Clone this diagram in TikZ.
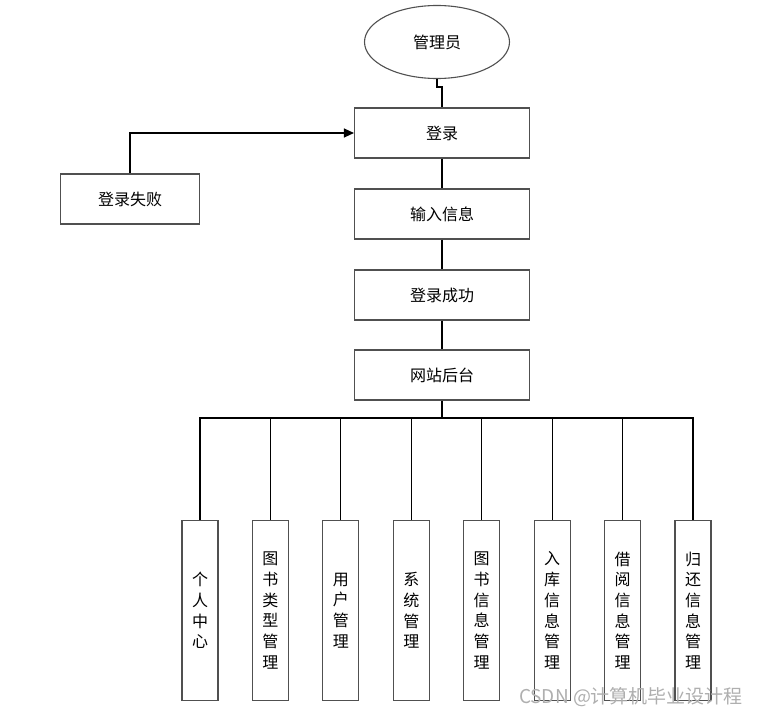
\documentclass[tikz,border=0pt]{standalone}
\usepackage{fontspec}
\setmainfont{Noto Sans CJK SC}
\usetikzlibrary{shapes.geometric,arrows.meta}

\definecolor{boxline}{RGB}{80, 80, 80}
\definecolor{marktext}{RGB}{175, 175, 175}

\begin{document}
\begin{tikzpicture}[x=1pt, y=-1pt,
    stepbox/.style={draw=boxline, line width=1.1pt, fill=white, minimum width=175pt, minimum height=50pt, font=\fontsize{16}{19}\selectfont},
    modbox/.style={draw=boxline, line width=1.1pt, fill=white, minimum width=36pt, minimum height=180pt, align=center, font=\fontsize{16}{20.7}\selectfont},
    link/.style={line width=1.2pt}]
        \useasboundingbox (0,0) rectangle (762,717);
        \node[ellipse, draw=boxline, line width=1.1pt, minimum width=145pt, minimum height=73pt, font=\fontsize{16}{19}\selectfont] (admin) at (437,42) {管理员};
        \node[stepbox] (login) at (442,133) {登录};
        \node[stepbox] (input) at (442,214) {输入信息};
        \node[stepbox] (success) at (442,295) {登录成功};
        \node[stepbox] (backend) at (442,375) {网站后台};
        \node[stepbox, minimum width=139pt] (fail) at (130,199) {登录失败};
        \coordinate (bus) at (442,418);
        \draw[link] (admin.south) -- ++(0,8) -| (login.north);
        \draw[link] (login) -- (input);
        \draw[link] (input) -- (success);
        \draw[link] (success) -- (backend);
        \draw[link, -{Triangle[length=10pt, width=9pt]}] (fail.north) |- (login.west);
        \draw[link] (backend.south) -- (bus);
        \foreach \txt [count=\i] in {{个\\人\\中\\心}, {图\\书\\类\\型\\管\\理}, {用\\户\\管\\理}, {系\\统\\管\\理},
            {图\\书\\信\\息\\管\\理}, {入\\库\\信\\息\\管\\理}, {借\\阅\\信\\息\\管\\理}, {归\\还\\信\\息\\管\\理}} {
            \node[modbox] (mod\i) at ({200+70.43*(\i-1)},610.5) {\txt};
            \draw[link] (bus) -| (mod\i.north);
        }
        \node[text=marktext, font=\fontsize{19}{22}\selectfont] (mark) at (631,697) {CSDN @计算机毕业设计程};
      \end{tikzpicture}
\end{document}
